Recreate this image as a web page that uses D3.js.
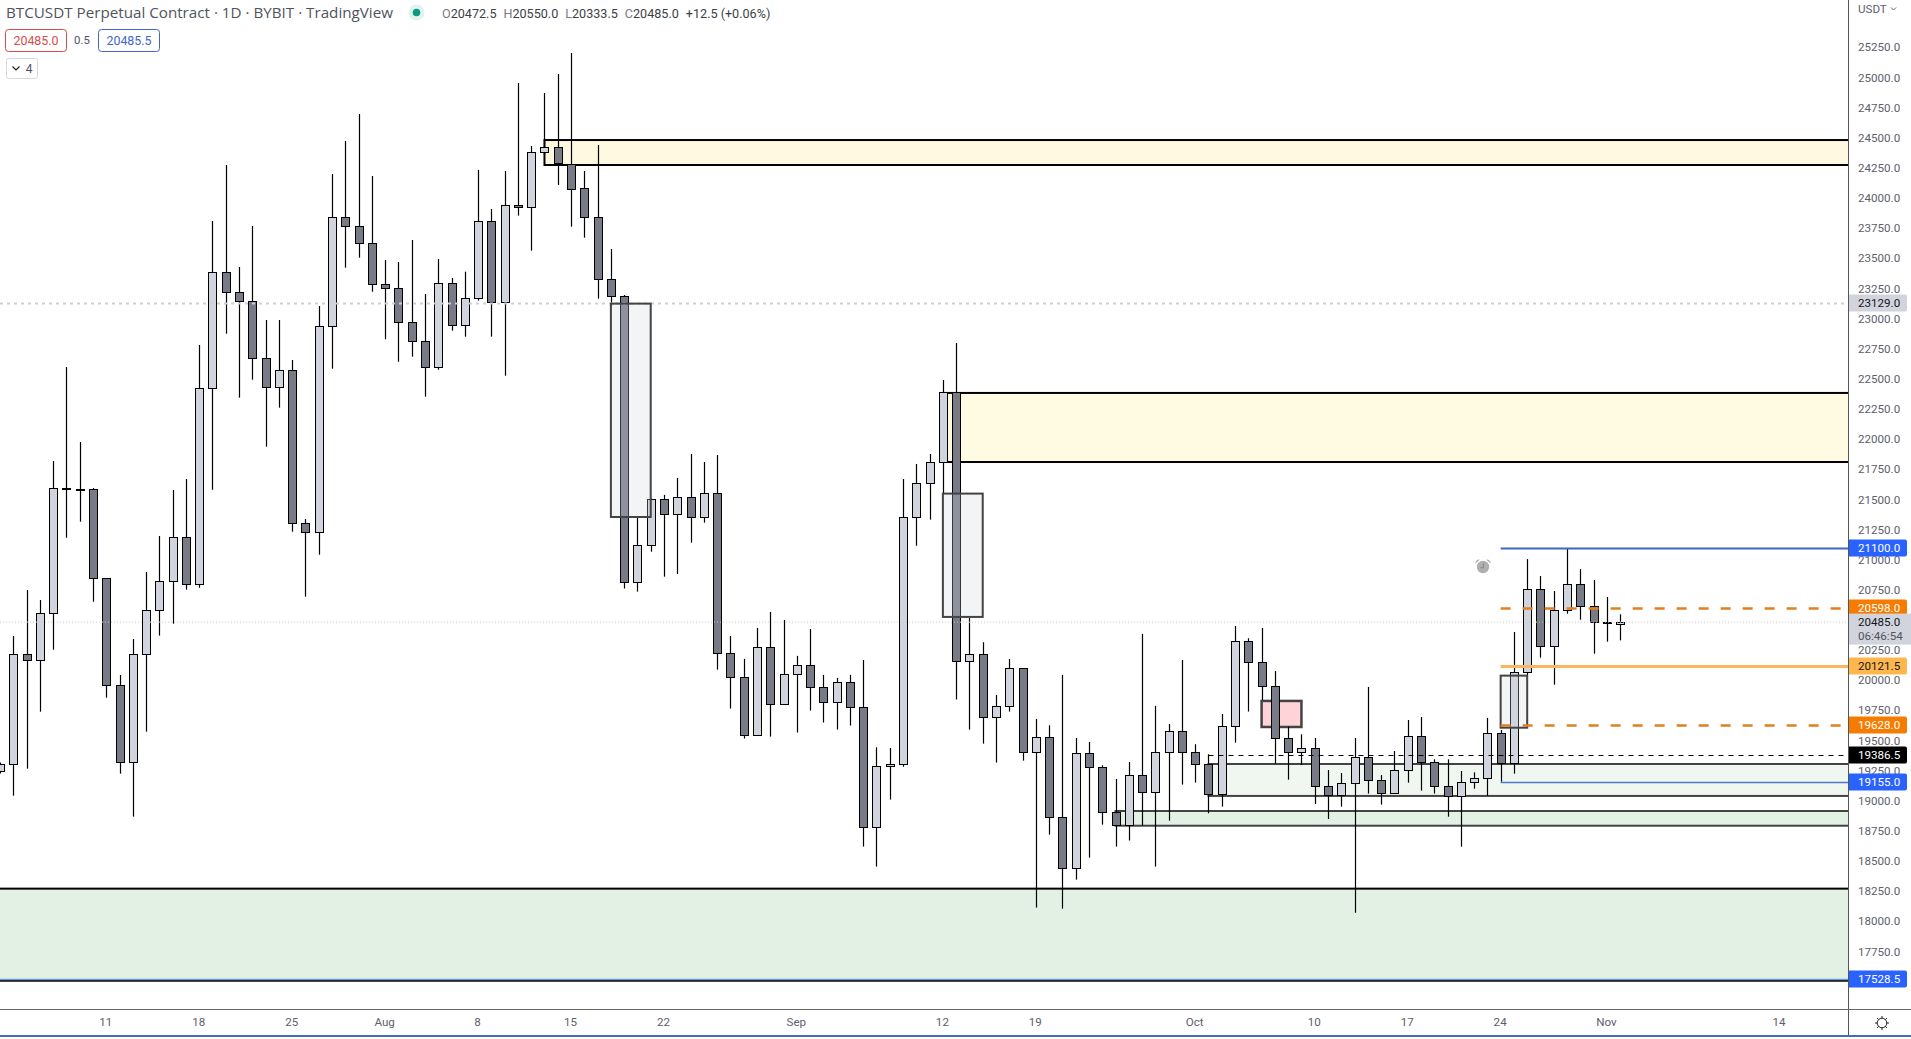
<!DOCTYPE html>
<html><head><meta charset="utf-8">
<script src="https://cdn.jsdelivr.net/npm/d3@7/dist/d3.min.js"></script>
<style>html,body{margin:0;padding:0;background:#fff;overflow:hidden}svg{display:block}text{font-family:Roboto,"Noto Sans",sans-serif}</style>
</head><body><svg id="c" width="1911" height="1039"></svg>
<script>
// Daily candles, first candle = 3 Jul 2022, one per day
const firstDay = "2022-07-03";
const opens = [19244,19305,20218,20168,20558,21594,21586,21586,20848,19961,19322,20218,20583,20823,21188,20798,22424,23387,23221,23146,22673,22432,22573,21304,21230,22939,23843,23768,23627,23287,23254,22972,22814,22598,23295,22947,23171,23810,23135,23945,23926,24382,24423,24288,24083,23843,23328,23188,20815,21122,21504,21379,21520,21354,21553,20227,20028,19546,20276,19804,20052,20127,19945,19820,19986,19779,18783,19289,19306,21354,21636,21811,22391,20160,20218,19696,19787,20102,19405,19530,18866,18443,19397,19281,18908,18797,19214,19073,19405,19579,19405,19306,19057,19621,20326,20152,19952,19521,19405,19438,19123,19045,19148,19363,19172,19065,19255,19537,19322,19123,19043,19156,19189,19562,19313,20068,20757,20284,20583,20798,20616,20483,20472.5];
const highs = [19320,20370,20751,20668,21821,22601,21979,21597,20848,20046,20345,20901,21199,21581,21672,22784,23812,24277,23431,23771,22991,22991,22659,21340,23107,24202,24476,24700,24186,23489,23472,23655,23207,23497,23340,23392,24236,23912,24227,24957,24435,24874,25032,25206,24227,24443,23580,23199,21360,21510,21540,21681,21880,21813,21871,20370,20180,20437,20570,20503,20205,20428,20047,20022,20047,20171,19447,19441,21672,21797,21880,22493,22800,20522,20318,19881,20179,20102,19682,19629,20047,19524,19491,19297,19184,19325,20387,19790,19640,20171,19472,19389,19723,20453,20351,20437,20079,19618,19554,19524,19258,19233,19524,19947,19217,19416,19673,19698,19347,19347,19250,19239,19690,19590,20403,21008,20867,20743,21100,20925,20834,20693,20550];
const lows = [19230,19045,19269,19742,20256,21185,21318,20654,19858,19228,18871,19576,20373,20472,20754,20770,21583,22878,22347,22496,21940,22264,21235,20696,21044,22587,23425,23508,23226,22831,22645,22687,22355,22579,22903,22853,23152,22853,22529,23857,23566,24350,24111,23765,23674,23168,23110,20763,20738,21069,20862,20884,21144,21310,20091,19768,19519,19546,19535,19804,19569,19751,19652,19594,19627,18623,18457,19013,19286,21119,21335,21553,19842,19593,19477,19320,19743,19336,18117,18722,18108,18349,18531,18805,18623,18673,18797,18457,18838,19137,19154,18899,18955,19485,19743,19839,19313,19178,19300,18976,18852,18954,18074,19062,18971,19065,19153,19087,19062,18871,18622,19103,19045,19161,19228,20046,20190,19966,20555,20505,20223,20323,20333.5];
const closes = [19305,20218,20168,20558,21594,21583,21590,20848,19961,19322,20218,20583,20823,21188,20798,22424,23387,23221,23146,22673,22432,22573,21304,21230,22939,23843,23768,23627,23287,23254,22972,22814,22598,23295,22947,23171,23810,23135,23942,23926,24382,24423,24288,24083,23843,23328,23188,20815,21122,21504,21379,21520,21354,21553,20227,20028,19546,20276,19804,20052,20127,19945,19820,19986,19779,18783,19289,19306,21354,21636,21811,22391,20160,20218,19696,19787,20102,19405,19530,18866,18443,19397,19281,18908,18797,19214,19073,19405,19579,19405,19306,19057,19621,20326,20152,19952,19521,19405,19438,19123,19045,19148,19363,19172,19065,19255,19537,19322,19123,19043,19156,19189,19562,19313,20068,20757,20284,20583,20798,20616,20483,20472.5,20485];

const priceTicks = d3.range(17750, 25251, 250);
const dateTickDays = [8,15,22,29,36,43,50,60,71,78,90,99,106,113,121,134];
const dateTickLabels = ["11","18","25","Aug","8","15","22","Sep","12","19","Oct","10","17","24","Nov","14"];

// Zones drawn under the candles: start day, top price, bottom price, fill, border
const zoneStart  = [41,71,-1,91,84];
const zoneTop    = [24484,22386,18274,19308,18918];
const zoneBottom = [24277,21813,17510,19043,18796];
const zoneFill   = ["#fff9e1","#fffbe3","#e3f1e5","#f0f7f1","#e3f1e5"];
const zoneBorder = ["#000","#000","#000","#434343","#434343"];

// Pink box (under candles)
const pinkBox = {from:95,to:98,top:19831,bottom:19615};
// Translucent boxes over the candles
const boxFrom   = [46,71,113];
const boxTo     = [49,74,115];
const boxTop    = [23127,21551,20041];
const boxBottom = [21357,20528,19609];

// Horizontal levels
const levelPrice = [21100,20598,20121.5,19628,19386.5,19155,17528.5];
const levelStart = [113,113,113,113,91,113,-1];
const levelColor = ["#3a68c4","#e0801e","#f9b65e","#e0801e","#000","#4d77c9","#6d9bd8"];
const levelWidth = [2,2.6,2.8,2.6,1,1.6,1.4];
const levelDash  = [null,"10 12",null,"10 12","5 5",null,null];

// Price tags on the axis
const tagPrice = [23129,21100,20598,20121.5,19628,19386.5,19155,17528.5];
const tagText  = ["23129.0","21100.0","20598.0","20121.5","19628.0","19386.5","19155.0","17528.5"];
const tagBg    = ["#d1d4dc","#2962ff","#f57c00","#ffb74d","#f57c00","#000","#2962ff","#2962ff"];
const tagFg    = ["#131722","#fff","#fff","#131722","#fff","#fff","#fff","#fff"];

const paneW = 1848, paneH = 1009;
const y = d3.scaleLinear().domain([25250,17750]).range([47.7,951.8]);
const x = d3.scaleLinear().domain([0,paneW/13.28]).range([0,paneW]);
const px = d => Math.round(x(d))+0.5;
const svg = d3.select("#c");
const defs = svg.append("defs");
defs.append("clipPath").attr("id","pane").append("rect").attr("width",paneW).attr("height",paneH);
const pane = svg.append("g").attr("clip-path","url(#pane)");

// zones
pane.selectAll("rect.z").data(zoneStart).join("rect").attr("class","z")
 .attr("x",(d)=>x(d)).attr("width",(d)=>paneW+6-x(d))
 .attr("y",(d,i)=>y(zoneTop[i])).attr("height",(d,i)=>y(zoneBottom[i])-y(zoneTop[i]))
 .attr("fill",(d,i)=>zoneFill[i]).attr("stroke",(d,i)=>zoneBorder[i]).attr("stroke-width",2);
pane.append("rect").attr("x",x(pinkBox.from)).attr("width",x(pinkBox.to)-x(pinkBox.from))
 .attr("y",y(pinkBox.top)).attr("height",y(pinkBox.bottom)-y(pinkBox.top))
 .attr("fill","#ffd3d8").attr("stroke","#434343").attr("stroke-width",2.5);

// candles
const candles = pane.append("g").selectAll("g").data(opens).join("g");
candles.append("line").attr("x1",(d,i)=>px(i)).attr("x2",(d,i)=>px(i))
 .attr("y1",(d,i)=>y(highs[i])).attr("y2",(d,i)=>y(lows[i])).attr("stroke","#000").attr("stroke-width",1.2);
candles.append("rect").attr("x",(d,i)=>px(i)-4).attr("width",8)
 .attr("y",(d,i)=>Math.round(y(Math.max(d,closes[i])))+0.5)
 .attr("height",(d,i)=>Math.max(1,Math.round(Math.abs(y(d)-y(closes[i])))))
 .attr("fill",(d,i)=>closes[i]>=d?"#d1d4dc":"#787b86").attr("stroke","#000").attr("stroke-width",1);

// dotted price lines
pane.append("line").attr("x1",0).attr("x2",paneW).attr("y1",y(23129)).attr("y2",y(23129))
 .attr("stroke","#cfcfcf").attr("stroke-width",2).attr("stroke-dasharray","3 4");
pane.append("line").attr("x1",0).attr("x2",paneW).attr("y1",y(20485)).attr("y2",y(20485))
 .attr("stroke","#ccc").attr("stroke-width",1).attr("stroke-dasharray","1 2");

// translucent boxes
pane.selectAll("rect.b").data(boxFrom).join("rect").attr("class","b")
 .attr("x",d=>x(d)).attr("width",(d,i)=>x(boxTo[i])-x(d))
 .attr("y",(d,i)=>y(boxTop[i])).attr("height",(d,i)=>y(boxBottom[i])-y(boxTop[i]))
 .attr("fill","#d1d4dc").attr("fill-opacity",0.26).attr("stroke","#434343").attr("stroke-width",2);

// levels
pane.selectAll("line.l").data(levelPrice).join("line").attr("class","l")
 .attr("x1",(d,i)=>x(levelStart[i])).attr("x2",paneW)
 .attr("y1",d=>Math.round(y(d))+.5).attr("y2",d=>Math.round(y(d))+.5)
 .attr("stroke",(d,i)=>levelColor[i]).attr("stroke-width",(d,i)=>levelWidth[i])
 .attr("stroke-dasharray",(d,i)=>levelDash[i]);

// alarm icon
const alarm = pane.append("g").attr("transform","translate(1483,567)").attr("fill","#b0b0b0");
alarm.append("circle").attr("r",6.2);
alarm.append("path").attr("d","M-7.6,-3.4 A3.4,3.4 0 0 1 -3.2,-7.2 Z M7.6,-3.4 A3.4,3.4 0 0 0 3.2,-7.2 Z");
alarm.append("path").attr("d","M0.4,-3.4 V0.8 H-3").attr("fill","none").attr("stroke","#8a8a8a").attr("stroke-width",1.1);

// axes
const priceAxis = d3.axisRight(y).tickValues(priceTicks).tickSize(0).tickPadding(0).tickFormat(d=>d3.format(".1f")(d));
const ga = svg.append("g").attr("transform",`translate(1858,0)`).call(priceAxis);
ga.select(".domain").remove();
ga.selectAll("text").attr("fill","#5d606b").attr("font-size",11.6).attr("x",0).attr("dy","0.28em").attr("font-family","Roboto");

svg.append("text").attr("x",1858).attr("y",13).attr("font-size",11.6).attr("fill","#5d606b").text("USDT");
svg.append("path").attr("d","M1891,7.5 L1893.5,10 L1896,7.5").attr("fill","none").attr("stroke","#5d606b");

const dateAxis = d3.axisBottom(x).tickValues(dateTickDays).tickSize(0).tickPadding(0)
 .tickFormat((d,i)=>dateTickLabels[i]);
const gd = svg.append("g").attr("transform","translate(-1,1018)").call(dateAxis);
gd.select(".domain").remove();
gd.selectAll("text").attr("fill","#5d606b").attr("font-size",11.6).attr("font-family","Roboto").attr("y",0).attr("dy","0.71em");

// tags
const tags = svg.append("g").selectAll("g").data(tagPrice).join("g")
 .attr("transform",d=>`translate(1848,${Math.round(y(d))})`);
tags.append("path").attr("d","M0,-8.5 H57 a2,2 0 0 1 2,2 V6.5 a2,2 0 0 1 -2,2 H0 Z").attr("fill",(d,i)=>tagBg[i]);
tags.append("text").attr("x",10).attr("dy","0.35em").attr("font-size",11.6).attr("fill",(d,i)=>tagFg[i]).text((d,i)=>tagText[i]);

// last price tag + countdown
const ly = y(20485);
svg.append("rect").attr("x",1848).attr("y",ly-8.5).attr("width",63).attr("height",31).attr("fill","#d1d4dc");
svg.append("text").attr("x",1858).attr("y",ly).attr("dy","0.35em").attr("font-size",11.6).attr("fill","#131722").text("20485.0");
svg.append("text").attr("x",1858).attr("y",ly+14).attr("dy","0.35em").attr("font-size",11.6).attr("fill","#50535e").text("06:46:54");

// frame
svg.append("line").attr("x1",1848.5).attr("x2",1848.5).attr("y1",0).attr("y2",1035).attr("stroke","#555");
svg.append("line").attr("x1",0).attr("x2",1911).attr("y1",1009.5).attr("y2",1009.5).attr("stroke","#666");
svg.append("rect").attr("x",0).attr("y",1035).attr("width",1911).attr("height",2).attr("fill","#3f6cc4");
// settings icon
const gear = svg.append("g").attr("transform","translate(1882,1023)").attr("stroke","#222").attr("fill","none");
gear.append("circle").attr("r",4.8);
d3.range(0,360,45).forEach(a=>{const r=a*Math.PI/180;gear.append("line").attr("x1",4.8*Math.cos(r)).attr("y1",4.8*Math.sin(r)).attr("x2",7*Math.cos(r)).attr("y2",7*Math.sin(r));});

// header
svg.append("text").attr("x",6).attr("y",18).attr("font-size",15).attr("style","font-family:'Open Sans'").attr("fill","#50535e").attr("textLength",387).attr("lengthAdjust","spacingAndGlyphs").text("BTCUSDT Perpetual Contract · 1D · BYBIT · TradingView");
svg.append("circle").attr("cx",416.5).attr("cy",12.5).attr("r",8).attr("fill","#e2f3ef");
svg.append("circle").attr("cx",416.5).attr("cy",12.5).attr("r",3.8).attr("fill","#0b9a80");
const headerKeys = ["O","H","L","C"];
const headerVals = ["20472.5","20550.0","20333.5","20485.0"];
const ot = svg.append("text").attr("x",442).attr("y",17.5).attr("font-size",12.6).attr("fill","#50535e");
headerKeys.forEach((k,i)=>{ot.append("tspan").attr("fill","#787b86").attr("dx",i?7:0).text(k);ot.append("tspan").attr("fill","#3d3f48").text(headerVals[i]);});
ot.append("tspan").attr("dx",7).attr("fill","#3d3f48").text("+12.5 (+0.06%)");

function priceBox(x0,w,txt,col){
 svg.append("rect").attr("x",x0+.5).attr("y",29.5).attr("width",w).attr("height",22).attr("rx",3).attr("fill","#fff").attr("stroke",col);
 svg.append("text").attr("x",x0+w/2+.5).attr("y",40.5).attr("dy","0.35em").attr("text-anchor","middle").attr("font-size",12.4).attr("fill",col).text(txt);
}
priceBox(5,61,"20485.0","#d84c4c");
priceBox(98,61,"20485.5","#3f66cc");
svg.append("text").attr("x",82).attr("y",40.5).attr("dy","0.35em").attr("text-anchor","middle").attr("font-size",11.4).attr("fill","#50535e").text("0.5");
svg.append("rect").attr("x",6.5).attr("y",58.5).attr("width",31).attr("height",20).attr("rx",2).attr("fill","#fff").attr("stroke","#d6d8de");
svg.append("path").attr("d","M12.5,66.5 L16,70 L19.5,66.5").attr("fill","none").attr("stroke","#222").attr("stroke-width",1.2);
svg.append("text").attr("x",29).attr("y",68.5).attr("dy","0.35em").attr("text-anchor","middle").attr("font-size",12).attr("fill","#50535e").text("4");
</script></body></html>
